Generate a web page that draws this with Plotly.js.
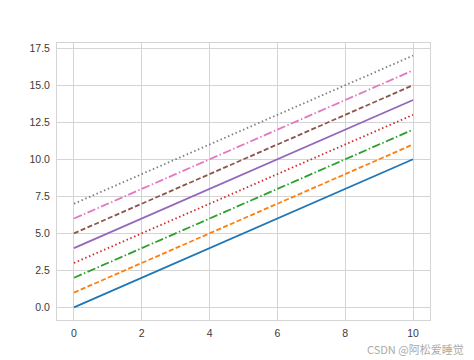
<!DOCTYPE html>
<html>
<head>
<meta charset="utf-8">
<script src="https://cdn.plot.ly/plotly-3.0.1.min.js"></script>
<style>html,body{margin:0;padding:0;background:#fff;}#chart{width:474px;height:360px;}</style>
</head>
<body>
<div id="chart"></div>
<script>
const xValues = [0, 10];
const series0 = [0, 10];
const series1 = [1, 11];
const series2 = [2, 12];
const series3 = [3, 13];
const series4 = [4, 14];
const series5 = [5, 15];
const series6 = [6, 16];
const series7 = [7, 17];
const yTickVals = [0, 2.5, 5, 7.5, 10, 12.5, 15, 17.5];
const yTickText = ["0.0", "2.5", "5.0", "7.5", "10.0", "12.5", "15.0", "17.5"];
const xTickVals = [0, 2, 4, 6, 8, 10];

const allSeries = [series0, series1, series2, series3, series4, series5, series6, series7];
const colors = ["#1f77b4", "#ff7f0e", "#2ca02c", "#d62728", "#9467bd", "#8c564b", "#e377c2", "#7f7f7f"];
const dashes = ["solid", "5px,2.4px", "8.5px,2.4px,1.5px,2.4px", "1.5px,2.6px",
                "solid", "5px,2.4px", "8.5px,2.4px,1.5px,2.4px", "1.5px,2.6px"];

const traces = allSeries.map((ys, i) => ({
  x: xValues, y: ys, type: "scatter", mode: "lines",
  line: {color: colors[i], width: 1.8, dash: dashes[i]},
  hoverinfo: "skip"
}));

const layout = {
  width: 474, height: 360,
  margin: {l: 57, r: 44, t: 43, b: 40, pad: 0},
  paper_bgcolor: "#ffffff", plot_bgcolor: "#ffffff",
  showlegend: false,
  font: {family: "Liberation Sans, Arial, sans-serif", size: 10.5, color: "#3a3a3a"},
  xaxis: {
    range: [-0.5, 10.5], tickvals: xTickVals, ticktext: xTickVals.map(String),
    showgrid: true, gridcolor: "#d4d4d4", gridwidth: 1,
    zeroline: false, showline: true, mirror: true, linecolor: "#d4d4d4", linewidth: 1,
    ticks: "", ticklabelstandoff: 3
  },
  yaxis: {
    range: [-0.85, 17.85], tickvals: yTickVals, ticktext: yTickText,
    showgrid: true, gridcolor: "#d4d4d4", gridwidth: 1,
    zeroline: false, showline: true, mirror: true, linecolor: "#d4d4d4", linewidth: 1,
    ticks: "", ticklabelstandoff: 4
  },
  annotations: [{
    text: "CSDN @阿松爱睡觉", xref: "paper", yref: "paper",
    x: 1.096, y: -0.105, xanchor: "right", yanchor: "middle", showarrow: false,
    font: {family: "Noto Sans CJK SC, sans-serif", size: 11, color: "#aaaaaa"}
  }]
};

Plotly.newPlot("chart", traces, layout, {staticPlot: true, displayModeBar: false});
</script>
</body>
</html>
